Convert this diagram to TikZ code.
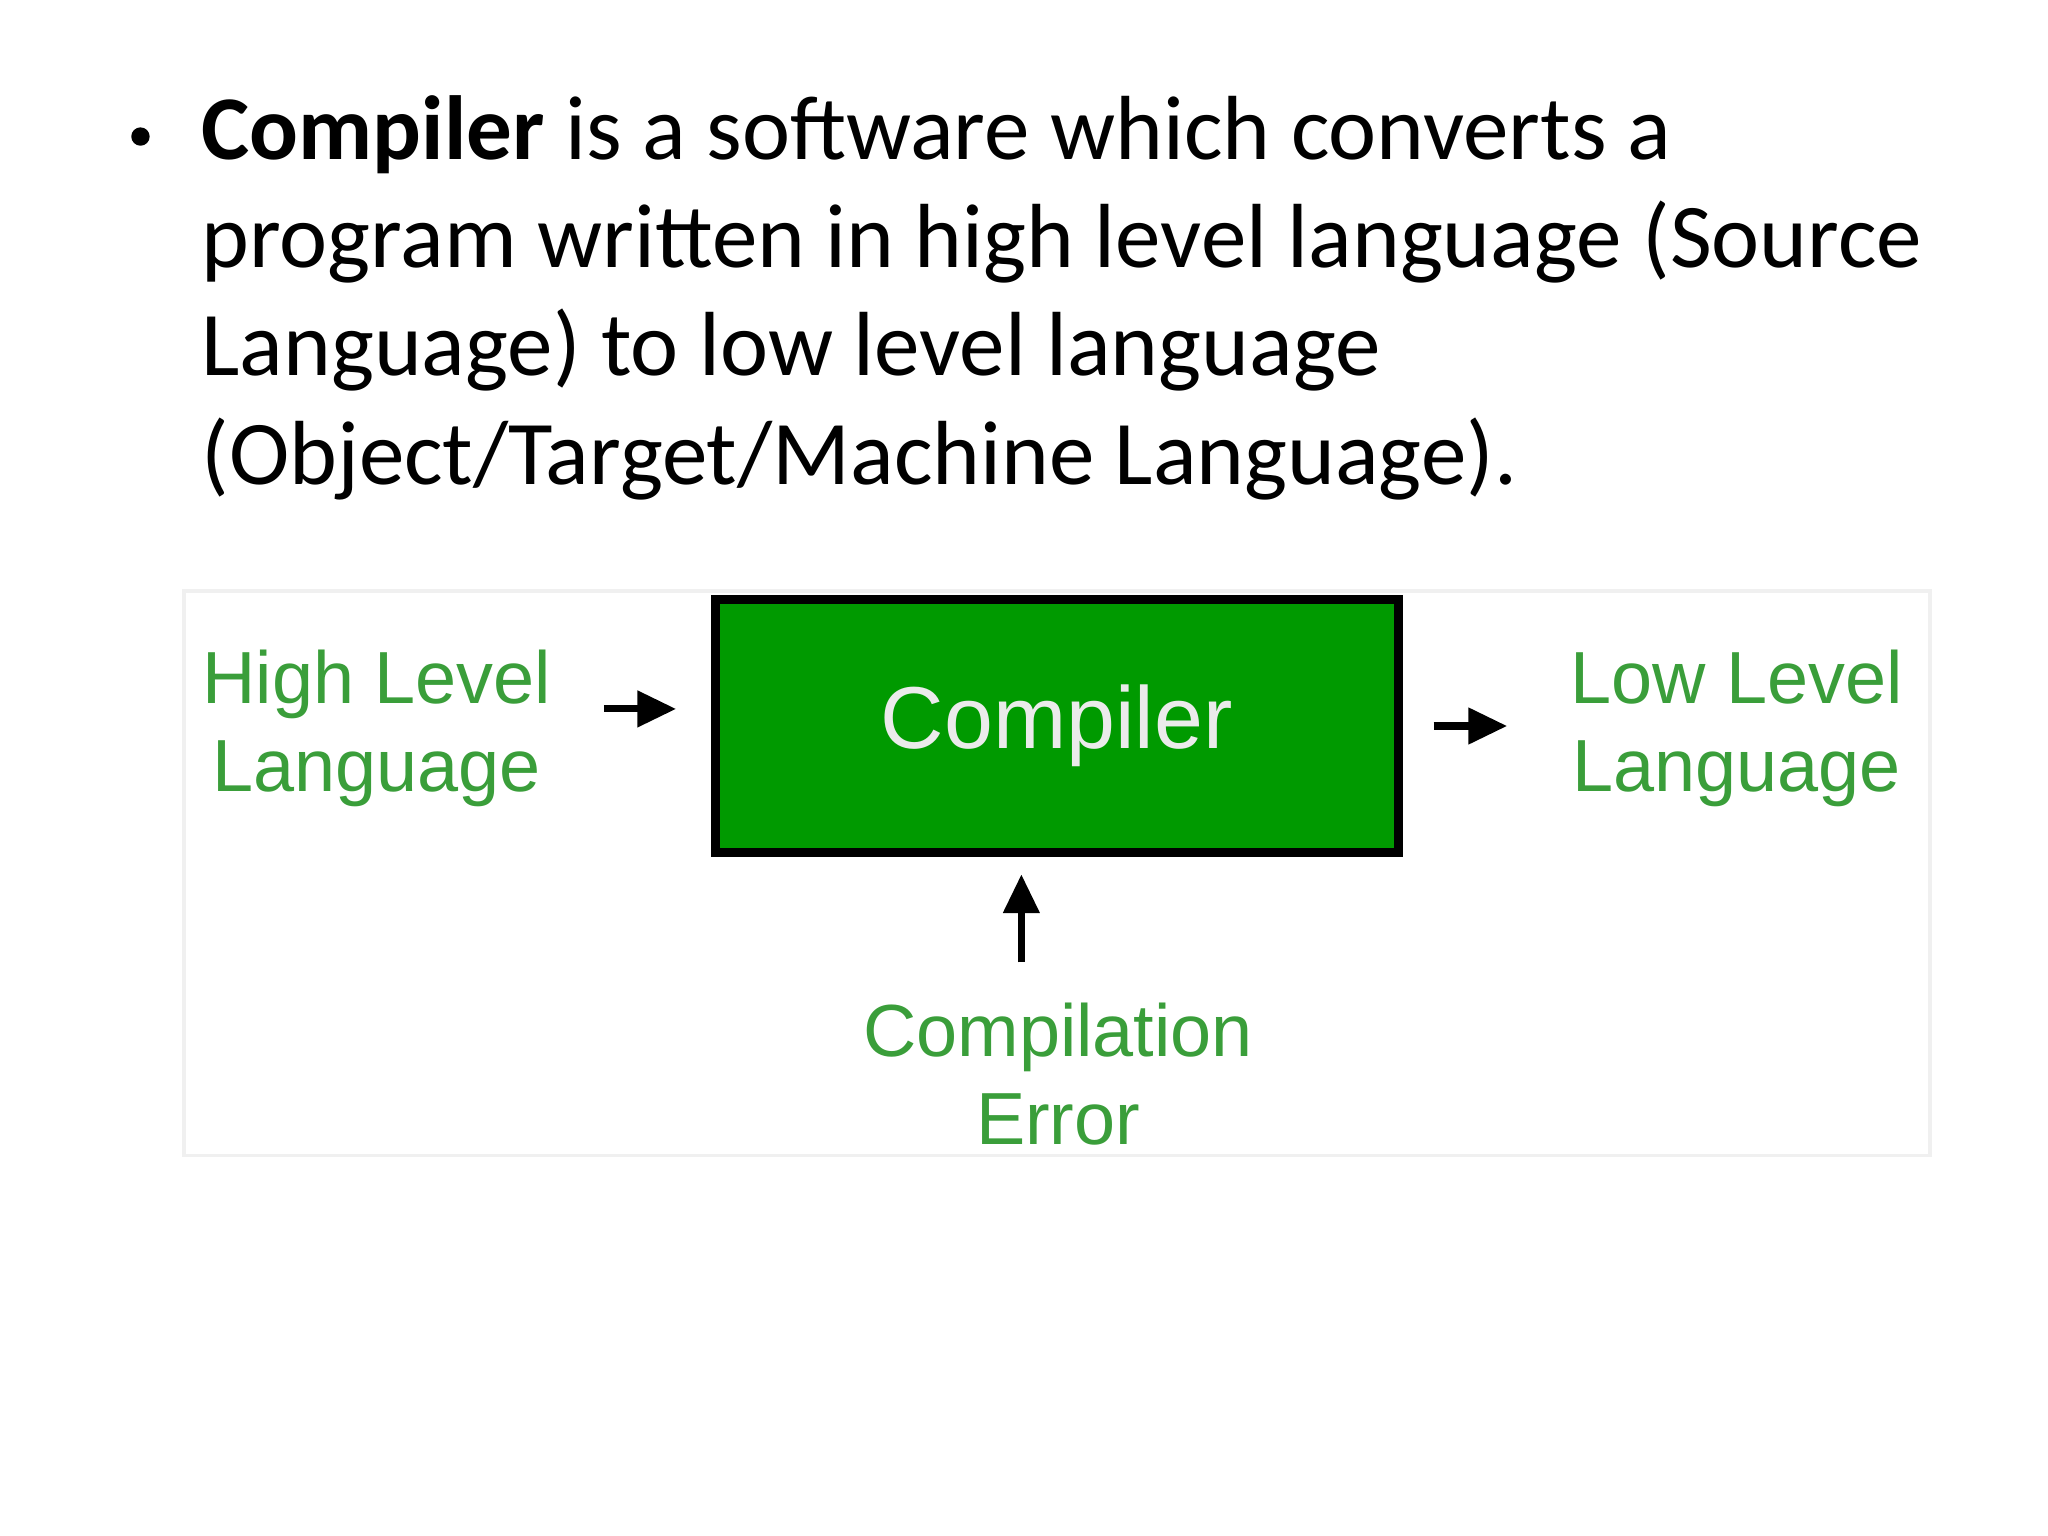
\documentclass[tikz,border=0pt]{standalone}
\usepackage{fontspec}
\setmainfont{Carlito}
\newfontfamily\arial{Liberation Sans}
\definecolor{gbox}{HTML}{009A00}
\definecolor{gtext}{HTML}{3A9E3A}
\usetikzlibrary{arrows.meta}
\begin{document}
\begin{tikzpicture}[x=0.01313cm,y=-0.01313cm,
  lbl/.style={text=gtext,font=\arial\fontsize{21}{25}\selectfont,align=center},
  arr/.style={-{Triangle[length=11pt,width=10pt]},line width=2pt}]
\useasboundingbox (0,0) rectangle (1560,1170);
\fill[white] (0,0) rectangle (1560,1170);
\node[anchor=north west,align=left,font=\fontsize{25.9}{30.8}\selectfont,inner sep=0] (t) at (153,72)
 {\textbf{Compiler} is a software which converts a\\program written in high level language (Source\\Language) to low level language\\(Object/Target/Machine Language).};
\fill (107,104) circle (7);
\draw[black!6,line width=1pt] (140,450) rectangle (1470,880);
\node[draw=black,line width=2.5pt,fill=gbox,minimum width=520*0.01313cm,minimum height=193*0.01313cm,inner sep=0,text=black!8,font=\arial\fontsize{25}{30}\selectfont] (c) at (805,553) {Compiler};
\node[lbl] (h) at (287,555) {High Level\\Language};
\node[lbl] (l) at (1323,555) {Low Level\\Language};
\node[lbl] (e) at (806,818) {Compilation\\Error};
\coordinate (a1) at (460,540); \coordinate (a2) at (515,540);
\coordinate (b1) at (1092,553); \coordinate (b2) at (1148,553);
\coordinate (e1) at (778,733); \coordinate (e2) at (778,666);
\draw[arr] (a1)--(a2);
\draw[arr] (b1)--(b2);
\draw[arr] (e1)--(e2);
\end{tikzpicture}
\end{document}
